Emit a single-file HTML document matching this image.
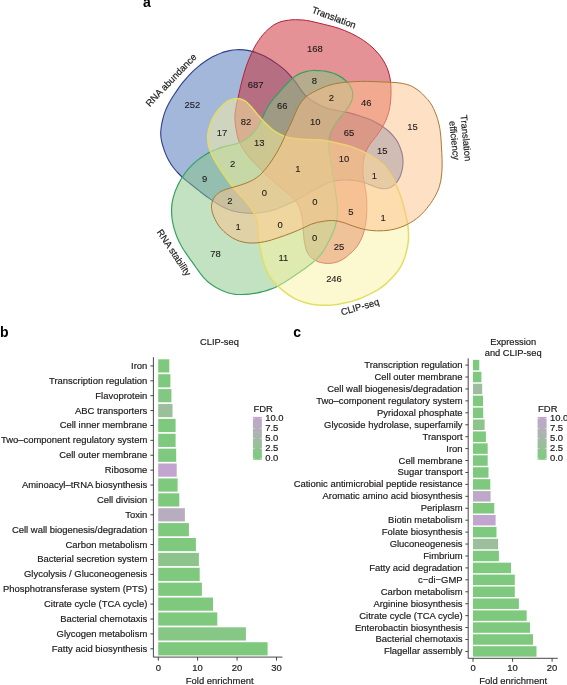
<!DOCTYPE html>
<html><head><meta charset="utf-8"><title>Figure</title>
<style>
html,body{margin:0;padding:0;background:#fff}
svg{display:block;font-family:"Liberation Sans",Arial,Helvetica,sans-serif;fill:#1c191a}
text{stroke:#1c191a;stroke-width:0.18px}
.num text{stroke-width:0.1px}
.num text{font-size:9.45px;text-anchor:middle}
.lab text{font-size:9.45px;text-anchor:middle}
.bl{font-size:9.45px;text-anchor:end}
.tk{font-size:9.45px;text-anchor:middle}
.lg{font-size:9.45px}
.ti{font-size:9.3px;text-anchor:middle}
.pn{font-size:14px;font-weight:bold;fill:#000;stroke:none}
.ax{stroke:#333;stroke-width:0.9}
</style></head><body>
<svg width="567" height="685" viewBox="0 0 567 685">
<rect width="567" height="685" fill="#fff"/>
<g id="venn">
<path d="M370.0 184.8C367.7 183.9 365.5 183.0 363.2 182.3C361.0 181.7 358.6 181.2 356.2 180.8C353.8 180.4 351.4 180.2 349.0 180.1C346.6 180.0 344.2 179.9 341.9 180.1C339.5 180.2 337.1 180.5 334.8 181.0C332.5 181.5 330.2 182.2 328.0 183.0C325.8 183.8 323.7 184.8 321.6 185.8C319.5 186.9 317.4 188.0 315.3 189.2C313.2 190.3 311.2 191.5 309.1 192.7C307.1 193.9 305.0 195.1 303.0 196.3C300.9 197.5 298.9 198.8 296.8 200.0C294.7 201.1 292.5 202.1 290.4 203.1C288.2 204.1 286.1 205.1 283.9 206.1C281.7 207.0 279.5 207.9 277.3 208.7C275.0 209.5 272.7 210.2 270.4 210.8C268.1 211.4 265.8 211.9 263.5 212.3C261.1 212.7 258.8 213.2 256.5 213.3C254.1 213.5 251.8 213.4 249.4 213.3C247.0 213.2 244.7 213.1 242.3 212.8C240.0 212.5 237.6 212.1 235.3 211.5C233.0 211.0 230.7 210.3 228.5 209.4C226.3 208.6 224.2 207.6 222.1 206.5C220.0 205.4 217.9 204.1 215.9 202.9C213.9 201.6 212.0 200.3 210.0 198.9C208.1 197.6 206.1 196.2 204.2 194.8C202.3 193.4 200.5 191.9 198.6 190.4C196.8 189.0 194.9 187.5 193.1 186.0C191.2 184.5 189.4 183.1 187.5 181.6C185.7 180.1 183.9 178.6 182.1 177.0C180.4 175.4 178.7 173.7 177.1 172.0C175.5 170.2 173.9 168.4 172.6 166.5C171.2 164.6 169.9 162.6 168.8 160.5C167.6 158.4 166.6 156.3 165.7 154.1C164.8 151.9 164.0 149.7 163.3 147.4C162.6 145.2 161.9 142.9 161.5 140.6C161.0 138.2 160.7 135.9 160.7 133.5C160.7 131.2 161.0 128.8 161.3 126.5C161.7 124.1 162.1 121.8 162.7 119.5C163.3 117.2 163.9 114.9 164.7 112.6C165.5 110.4 166.5 108.2 167.5 106.1C168.5 104.0 169.7 101.9 170.9 99.8C172.1 97.8 173.4 95.8 174.7 93.8C176.0 91.8 177.4 89.9 178.7 87.9C180.1 86.0 181.5 84.1 183.0 82.2C184.5 80.4 186.0 78.5 187.6 76.8C189.2 75.0 190.9 73.3 192.6 71.6C194.3 70.0 196.1 68.4 197.9 66.9C199.8 65.3 201.6 63.8 203.6 62.5C205.5 61.1 207.5 59.7 209.6 58.5C211.6 57.3 213.7 56.2 215.9 55.2C218.1 54.1 220.3 53.2 222.5 52.4C224.8 51.7 227.2 51.0 229.5 50.6C231.9 50.1 234.3 49.8 236.7 49.7C239.1 49.6 241.6 49.7 244.0 49.9C246.3 50.1 248.7 50.5 251.1 51.1C253.4 51.6 255.7 52.3 257.9 53.2C260.1 54.0 262.3 55.0 264.4 56.0C266.5 57.1 268.6 58.3 270.6 59.5C272.5 60.8 274.5 62.1 276.4 63.4C278.3 64.8 280.2 66.2 282.0 67.7C283.8 69.2 285.6 70.7 287.2 72.4C288.9 74.1 290.4 75.9 291.9 77.7C293.4 79.4 294.9 81.3 296.3 83.2C297.7 85.1 298.9 87.1 300.3 89.0C301.7 90.9 303.1 93.0 304.7 94.7C306.4 96.4 308.2 98.1 310.1 99.5C312.0 100.9 314.1 102.1 316.2 103.2C318.3 104.4 320.4 105.4 322.6 106.4C324.8 107.3 327.1 108.2 329.3 108.8C331.6 109.4 334.0 109.8 336.4 110.3C338.7 110.7 341.0 111.2 343.3 111.6C345.6 112.1 348.0 112.6 350.3 113.1C352.6 113.7 354.8 114.3 357.1 115.0C359.4 115.7 361.6 116.5 363.8 117.3C366.1 118.1 368.3 118.9 370.5 119.8C372.7 120.7 374.8 121.8 376.9 122.9C378.9 124.1 381.0 125.3 382.9 126.7C384.8 128.0 386.7 129.5 388.5 131.0C390.2 132.6 391.9 134.3 393.4 136.1C394.9 137.9 396.4 139.8 397.5 141.8C398.7 143.9 399.6 146.1 400.4 148.3C401.2 150.5 402.0 152.8 402.4 155.1C402.9 157.4 403.1 159.8 403.0 162.2C403.0 164.5 402.7 166.9 402.2 169.3C401.8 171.6 401.1 174.0 400.2 176.2C399.2 178.4 398.1 180.6 396.6 182.5C395.0 184.3 393.0 186.2 390.9 187.2C388.7 188.3 386.1 188.8 383.7 188.8C381.3 188.8 378.9 188.0 376.6 187.3C374.3 186.7 372.2 185.6 370.0 184.8Z" fill="#476fb5" fill-opacity="0.50" stroke="#2f3f8f" stroke-width="1.1"/>
<path d="M304.0 238.7C303.7 236.3 303.6 234.0 303.4 231.6C303.2 229.3 303.1 226.9 302.9 224.6C302.6 222.2 302.5 219.8 302.1 217.5C301.7 215.1 301.3 212.8 300.5 210.5C299.8 208.2 298.8 206.0 297.5 203.9C296.3 201.9 294.8 200.0 293.2 198.2C291.6 196.5 289.7 195.0 287.9 193.4C286.1 191.9 284.2 190.5 282.4 189.0C280.5 187.5 278.7 186.0 276.9 184.5C275.1 183.0 273.3 181.4 271.6 179.8C269.8 178.2 267.9 176.7 266.2 175.0C264.5 173.4 262.9 171.6 261.3 169.9C259.6 168.2 257.9 166.6 256.2 164.9C254.5 163.2 252.8 161.6 251.3 159.8C249.7 158.0 248.1 156.2 246.7 154.3C245.3 152.4 243.9 150.4 242.7 148.4C241.5 146.4 240.2 144.3 239.3 142.1C238.4 139.9 237.8 137.6 237.3 135.3C236.7 133.0 236.2 130.7 235.9 128.3C235.5 126.0 235.2 123.7 235.1 121.3C234.9 119.0 234.9 116.7 235.0 114.3C235.2 112.0 235.5 109.7 235.9 107.4C236.3 105.1 236.9 102.9 237.4 100.6C237.9 98.3 238.5 96.0 239.0 93.7C239.5 91.4 240.0 89.1 240.5 86.8C241.1 84.5 241.6 82.3 242.2 80.0C242.8 77.7 243.5 75.4 244.1 73.2C244.8 70.9 245.5 68.6 246.2 66.4C247.0 64.2 247.8 62.0 248.7 59.8C249.6 57.6 250.5 55.4 251.5 53.3C252.5 51.1 253.6 49.0 254.7 46.9C255.9 44.8 257.1 42.7 258.5 40.7C259.8 38.7 261.3 36.7 262.9 34.8C264.5 32.9 266.2 31.1 268.0 29.5C269.9 27.9 271.8 26.3 273.9 24.9C276.1 23.6 278.5 22.4 281.0 21.6C283.4 20.9 285.9 20.5 288.4 20.2C290.8 19.8 293.3 19.7 295.7 19.7C298.1 19.7 300.6 19.8 303.0 20.0C305.4 20.2 307.8 20.7 310.2 21.1C312.6 21.6 314.9 22.2 317.2 22.7C319.5 23.3 321.8 23.8 324.1 24.4C326.4 25.0 328.8 25.5 331.1 26.1C333.3 26.7 335.6 27.3 337.9 28.0C340.2 28.8 342.4 29.6 344.6 30.5C346.8 31.4 349.0 32.4 351.2 33.4C353.3 34.4 355.4 35.5 357.5 36.7C359.6 37.9 361.6 39.1 363.6 40.5C365.6 41.8 367.5 43.2 369.4 44.8C371.2 46.3 373.0 47.9 374.7 49.6C376.4 51.3 378.0 53.1 379.5 55.0C381.0 56.9 382.4 58.9 383.6 61.0C384.9 63.1 385.9 65.3 386.9 67.5C387.8 69.7 388.6 72.0 389.2 74.4C389.8 76.7 390.2 79.1 390.5 81.5C390.8 83.8 390.9 86.2 391.0 88.6C391.1 91.0 391.1 93.4 391.0 95.8C390.9 98.2 390.7 100.6 390.4 102.9C390.1 105.3 389.8 107.7 389.2 110.0C388.7 112.4 388.0 114.7 387.2 116.9C386.4 119.2 385.4 121.4 384.3 123.6C383.3 125.7 382.0 127.7 380.7 129.8C379.4 131.8 378.1 133.8 376.7 135.7C375.3 137.6 373.7 139.4 372.2 141.3C370.8 143.2 369.3 145.0 368.1 147.0C366.9 149.1 365.9 151.3 365.2 153.5C364.4 155.7 364.0 158.1 363.6 160.4C363.3 162.8 363.0 165.1 362.9 167.5C362.9 169.9 362.9 172.2 363.1 174.6C363.3 177.0 363.8 179.3 364.2 181.6C364.6 184.0 365.0 186.3 365.3 188.6C365.7 191.0 366.1 193.3 366.3 195.7C366.6 198.0 366.7 200.4 366.8 202.8C366.8 205.1 366.8 207.5 366.8 209.9C366.7 212.3 366.7 214.6 366.5 217.0C366.3 219.3 366.0 221.7 365.6 224.0C365.2 226.3 364.7 228.7 364.1 230.9C363.5 233.2 362.8 235.5 361.9 237.6C361.0 239.8 359.9 241.9 358.7 243.9C357.4 245.9 356.1 247.7 354.5 249.5C353.0 251.2 351.3 252.7 349.5 254.2C347.7 255.8 346.0 257.3 344.0 258.6C342.0 259.9 339.9 261.0 337.7 261.8C335.5 262.6 333.1 263.1 330.8 263.3C328.5 263.5 326.0 263.5 323.7 263.1C321.4 262.8 319.1 262.2 317.0 261.3C315.0 260.4 312.9 259.2 311.3 257.7C309.7 256.3 308.4 254.4 307.3 252.4C306.3 250.4 305.7 248.0 305.2 245.7C304.6 243.4 304.3 241.1 304.0 238.7Z" fill="#c9252b" fill-opacity="0.50" stroke="#b3203a" stroke-width="1.0"/>
<path d="M345.4 111.2C343.9 113.1 342.3 114.8 340.8 116.7C339.4 118.6 337.8 120.5 336.4 122.5C335.1 124.4 333.7 126.4 332.6 128.6C331.5 130.7 330.5 133.0 329.8 135.3C329.2 137.7 328.8 140.2 328.7 142.6C328.5 145.0 328.6 147.4 328.8 149.8C329.0 152.2 329.5 154.5 329.9 156.8C330.2 159.2 330.7 161.5 331.1 163.9C331.5 166.2 331.8 168.6 332.2 171.0C332.5 173.3 332.8 175.7 333.2 178.1C333.6 180.4 334.1 182.7 334.5 185.1C334.9 187.4 335.2 189.8 335.5 192.2C335.9 194.6 336.3 196.9 336.6 199.3C336.9 201.6 337.3 204.0 337.4 206.4C337.5 208.8 337.6 211.2 337.4 213.6C337.3 216.0 337.0 218.4 336.5 220.7C336.1 223.1 335.6 225.4 334.9 227.7C334.2 229.9 333.1 232.0 332.2 234.2C331.3 236.3 330.3 238.5 329.2 240.6C328.2 242.7 327.1 244.8 325.9 246.8C324.7 248.9 323.5 250.9 322.1 252.8C320.7 254.7 319.1 256.5 317.5 258.2C315.9 259.9 314.0 261.5 312.2 263.0C310.4 264.5 308.5 265.9 306.5 267.4C304.6 268.8 302.7 270.1 300.7 271.5C298.7 272.8 296.7 274.1 294.8 275.4C292.8 276.7 290.8 278.1 288.8 279.4C286.8 280.7 284.9 282.1 282.8 283.3C280.8 284.5 278.7 285.6 276.6 286.7C274.4 287.7 272.2 288.6 270.0 289.4C267.8 290.2 265.6 290.9 263.3 291.5C261.0 292.1 258.8 292.7 256.5 293.1C254.2 293.5 251.9 293.9 249.6 294.1C247.3 294.3 244.9 294.5 242.6 294.5C240.2 294.5 237.8 294.5 235.5 294.3C233.2 294.0 230.9 293.6 228.7 293.0C226.4 292.4 224.2 291.5 222.0 290.5C219.8 289.6 217.7 288.5 215.6 287.3C213.6 286.1 211.5 284.8 209.7 283.3C207.8 281.8 206.1 280.1 204.4 278.3C202.8 276.6 201.4 274.7 199.9 272.8C198.5 270.9 197.1 268.9 195.7 267.0C194.3 265.1 192.9 263.1 191.6 261.2C190.2 259.3 188.8 257.3 187.4 255.4C186.1 253.4 184.7 251.5 183.4 249.5C182.2 247.4 181.0 245.3 179.9 243.2C178.8 241.1 177.8 238.9 176.9 236.7C176.0 234.5 175.2 232.2 174.5 229.9C173.8 227.6 173.2 225.3 172.8 223.0C172.3 220.6 172.0 218.2 171.8 215.8C171.6 213.5 171.5 211.1 171.6 208.7C171.7 206.3 171.9 203.9 172.3 201.6C172.8 199.2 173.4 196.9 174.1 194.6C174.8 192.4 175.6 190.1 176.6 188.0C177.5 185.8 178.5 183.6 179.7 181.6C180.8 179.5 182.0 177.5 183.4 175.5C184.7 173.5 186.1 171.6 187.6 169.8C189.2 168.0 190.8 166.3 192.5 164.6C194.2 163.0 196.0 161.4 197.9 159.9C199.8 158.4 201.7 157.0 203.7 155.7C205.8 154.4 207.8 153.2 210.0 152.1C212.1 151.1 214.4 150.2 216.6 149.3C218.8 148.4 221.1 147.6 223.4 146.9C225.7 146.3 228.1 145.8 230.4 145.3C232.7 144.7 235.1 144.3 237.3 143.5C239.6 142.7 241.9 141.7 243.9 140.5C246.0 139.3 248.0 137.7 249.8 136.2C251.6 134.6 253.4 132.8 254.9 131.0C256.4 129.1 257.8 127.1 259.0 125.0C260.2 122.9 261.1 120.6 262.1 118.4C263.1 116.2 264.1 114.0 265.1 111.9C266.2 109.8 267.3 107.6 268.6 105.6C269.9 103.6 271.3 101.6 272.8 99.7C274.3 97.8 275.9 96.1 277.5 94.3C279.1 92.5 280.6 90.7 282.2 88.9C283.8 87.1 285.4 85.3 287.0 83.6C288.7 81.8 290.4 80.0 292.2 78.5C294.1 77.0 296.1 75.5 298.3 74.4C300.4 73.3 302.7 72.4 305.0 71.8C307.3 71.2 309.8 70.7 312.1 70.5C314.4 70.3 316.8 70.5 319.1 70.6C321.4 70.8 323.8 70.9 326.0 71.3C328.3 71.7 330.5 72.3 332.6 73.0C334.8 73.8 337.0 74.8 339.0 75.9C341.0 77.0 342.9 78.3 344.7 79.8C346.4 81.3 348.2 83.0 349.5 84.9C350.8 86.8 352.0 89.0 352.5 91.3C352.9 93.6 352.9 96.2 352.4 98.5C351.9 100.9 350.7 103.1 349.5 105.2C348.3 107.3 346.8 109.2 345.4 111.2Z" fill="#85c583" fill-opacity="0.50" stroke="#36a060" stroke-width="1.2"/>
<path d="M254.8 111.1C256.3 112.9 257.8 114.8 259.3 116.6C260.9 118.3 262.4 120.1 264.1 121.8C265.7 123.5 267.4 125.2 269.2 126.7C270.9 128.3 272.7 129.8 274.6 131.2C276.6 132.5 278.6 133.7 280.8 134.7C282.9 135.7 285.2 136.6 287.5 137.2C289.8 137.8 292.2 138.2 294.5 138.5C296.9 138.8 299.2 139.0 301.6 139.2C304.0 139.4 306.4 139.4 308.7 139.5C311.1 139.6 313.5 139.7 315.9 139.8C318.2 139.9 320.6 139.9 323.0 140.2C325.3 140.5 327.6 141.0 330.0 141.4C332.3 141.9 334.7 142.4 337.0 142.9C339.3 143.4 341.6 143.9 343.8 144.5C346.1 145.1 348.3 145.7 350.5 146.4C352.8 147.2 355.0 148.0 357.1 148.9C359.3 149.7 361.4 150.6 363.4 151.6C365.5 152.6 367.4 153.8 369.5 155.0C371.5 156.2 373.5 157.4 375.5 158.7C377.5 160.1 379.4 161.5 381.2 163.1C383.0 164.6 384.8 166.4 386.3 168.2C387.9 170.1 389.3 172.1 390.5 174.2C391.8 176.2 392.9 178.4 394.0 180.5C395.0 182.7 396.0 184.8 397.0 187.0C397.9 189.2 398.9 191.4 399.7 193.7C400.5 195.9 401.3 198.2 402.0 200.5C402.7 202.8 403.3 205.1 403.9 207.4C404.5 209.7 405.1 212.0 405.6 214.3C406.2 216.6 406.7 219.0 407.1 221.3C407.6 223.7 408.0 226.0 408.2 228.4C408.4 230.8 408.6 233.1 408.6 235.5C408.6 237.9 408.4 240.2 408.1 242.6C407.9 244.9 407.4 247.2 406.9 249.5C406.4 251.8 405.8 254.1 405.1 256.3C404.3 258.5 403.6 260.7 402.6 262.8C401.7 264.9 400.6 266.9 399.4 268.8C398.2 270.7 396.7 272.5 395.2 274.3C393.7 276.1 392.1 277.8 390.4 279.5C388.8 281.1 387.1 282.8 385.3 284.3C383.5 285.8 381.6 287.2 379.7 288.6C377.7 289.9 375.6 291.1 373.6 292.2C371.5 293.4 369.3 294.4 367.2 295.4C365.0 296.4 362.8 297.4 360.6 298.2C358.4 299.1 356.1 299.9 353.8 300.6C351.6 301.3 349.3 301.9 346.9 302.5C344.6 303.0 342.3 303.5 339.9 303.9C337.6 304.3 335.2 304.6 332.9 304.9C330.5 305.1 328.1 305.3 325.7 305.3C323.4 305.4 321.0 305.3 318.6 305.1C316.3 304.9 313.9 304.6 311.6 304.2C309.2 303.7 306.9 303.2 304.7 302.5C302.4 301.8 300.2 301.0 298.0 300.1C295.9 299.1 293.8 298.0 291.8 296.8C289.7 295.6 287.8 294.3 285.9 292.9C284.0 291.5 282.1 290.0 280.4 288.4C278.6 286.9 276.8 285.3 275.2 283.5C273.6 281.8 272.0 280.0 270.7 278.0C269.3 276.1 268.1 274.0 267.1 271.9C266.0 269.7 265.2 267.5 264.4 265.2C263.7 263.0 263.1 260.7 262.5 258.4C261.8 256.1 261.3 253.8 260.8 251.5C260.3 249.2 259.8 246.9 259.4 244.5C259.0 242.2 258.6 239.8 258.4 237.5C258.1 235.1 258.1 232.7 257.9 230.4C257.8 228.0 257.8 225.6 257.4 223.3C257.0 221.0 256.5 218.8 255.6 216.7C254.8 214.6 253.6 212.5 252.4 210.5C251.2 208.6 249.9 206.7 248.5 204.8C247.1 203.0 245.7 201.2 244.2 199.5C242.6 197.8 241.0 196.2 239.4 194.4C237.8 192.7 236.2 190.9 234.6 189.0C233.1 187.2 231.6 185.4 230.1 183.5C228.6 181.6 227.2 179.6 225.9 177.7C224.5 175.7 223.2 173.7 221.9 171.8C220.6 169.8 219.3 167.8 218.0 165.8C216.8 163.8 215.6 161.8 214.5 159.8C213.3 157.7 212.2 155.6 211.3 153.5C210.4 151.3 209.5 149.1 208.9 146.9C208.3 144.6 207.9 142.2 207.8 139.9C207.6 137.6 207.7 135.3 208.0 133.0C208.3 130.8 209.0 128.6 209.6 126.4C210.3 124.2 211.1 122.0 212.0 120.0C212.9 118.0 214.0 116.0 215.2 114.2C216.4 112.3 217.8 110.4 219.3 108.7C220.8 107.0 222.4 105.3 224.2 103.8C226.0 102.3 228.0 100.8 230.2 100.0C232.4 99.1 235.0 98.4 237.4 98.5C239.8 98.7 242.5 99.5 244.6 100.7C246.7 101.9 248.4 103.8 250.1 105.6C251.8 107.3 253.3 109.2 254.8 111.1Z" fill="#f9f19f" fill-opacity="0.50" stroke="#e2de62" stroke-width="1.5"/>
<path d="M233.3 187.2C235.6 186.5 237.9 185.9 240.2 185.2C242.4 184.5 244.7 183.7 246.9 182.8C249.1 181.9 251.3 180.9 253.4 179.7C255.5 178.5 257.5 177.1 259.3 175.6C261.2 174.0 262.8 172.2 264.4 170.4C266.0 168.6 267.4 166.7 268.8 164.8C270.3 162.9 271.6 160.8 272.9 158.8C274.2 156.8 275.5 154.8 276.7 152.8C277.9 150.7 279.0 148.6 280.1 146.5C281.1 144.3 282.2 142.1 283.2 140.0C284.2 137.8 284.9 135.8 285.9 133.7C286.9 131.6 288.0 129.5 289.1 127.4C290.1 125.2 291.1 123.1 292.1 120.9C293.0 118.8 293.9 116.6 294.8 114.5C295.8 112.3 296.7 110.0 297.8 107.9C298.9 105.8 300.1 103.7 301.5 101.7C303.0 99.8 304.6 97.9 306.5 96.4C308.3 94.9 310.6 93.7 312.6 92.5C314.7 91.3 316.9 90.2 319.0 89.2C321.2 88.2 323.4 87.3 325.6 86.5C327.9 85.7 330.1 84.9 332.4 84.4C334.7 83.8 337.0 83.3 339.4 83.0C341.7 82.6 344.1 82.4 346.4 82.2C348.8 82.0 351.1 81.9 353.5 81.7C355.9 81.6 358.2 81.4 360.6 81.4C362.9 81.3 365.3 81.3 367.7 81.4C370.0 81.4 372.4 81.5 374.8 81.6C377.1 81.7 379.5 81.8 381.8 81.9C384.2 82.0 386.6 82.1 389.0 82.2C391.4 82.3 393.8 82.4 396.2 82.6C398.6 82.9 401.1 83.1 403.5 83.6C405.9 84.1 408.3 84.8 410.6 85.7C412.8 86.7 415.0 88.0 417.0 89.4C419.1 90.8 420.9 92.5 422.6 94.1C424.4 95.8 426.1 97.6 427.7 99.5C429.2 101.3 430.6 103.3 431.9 105.4C433.1 107.4 434.0 109.6 434.9 111.8C435.9 113.9 436.7 116.1 437.4 118.4C438.1 120.6 438.7 122.8 439.2 125.1C439.7 127.4 440.0 129.6 440.3 131.9C440.6 134.2 440.8 136.5 441.0 138.8C441.2 141.1 441.3 143.5 441.4 145.8C441.6 148.1 441.7 150.5 441.8 152.8C441.9 155.1 442.1 157.5 442.1 159.8C442.1 162.1 442.2 164.5 442.1 166.8C442.1 169.2 441.9 171.5 441.7 173.9C441.5 176.2 441.2 178.6 440.8 180.9C440.3 183.3 439.7 185.6 439.0 187.8C438.2 190.0 437.2 192.2 436.1 194.3C435.1 196.4 433.8 198.5 432.6 200.4C431.3 202.4 430.0 204.4 428.5 206.2C427.1 208.1 425.7 209.9 424.1 211.6C422.5 213.4 420.8 215.0 419.0 216.6C417.3 218.1 415.4 219.5 413.4 220.8C411.5 222.1 409.4 223.3 407.3 224.4C405.2 225.4 403.0 226.4 400.8 227.2C398.6 228.0 396.3 228.7 394.0 229.2C391.7 229.8 389.4 230.1 387.0 230.4C384.7 230.7 382.3 230.8 380.0 230.8C377.6 230.9 375.2 230.8 372.9 230.6C370.6 230.4 368.2 230.2 365.9 229.7C363.6 229.3 361.3 228.6 359.0 228.0C356.8 227.3 354.5 226.6 352.3 225.8C350.1 225.1 348.0 224.1 345.7 223.3C343.5 222.6 341.2 221.8 338.9 221.3C336.5 220.8 334.1 220.6 331.7 220.5C329.3 220.5 326.9 220.8 324.5 221.1C322.2 221.4 319.8 221.8 317.5 222.3C315.2 222.9 312.9 223.6 310.7 224.4C308.5 225.3 306.4 226.5 304.2 227.5C302.1 228.5 299.9 229.5 297.8 230.4C295.6 231.3 293.4 232.2 291.3 233.1C289.1 233.9 286.9 234.7 284.7 235.5C282.5 236.2 280.2 237.0 278.0 237.8C275.7 238.5 273.5 239.4 271.3 240.0C269.0 240.7 266.7 241.3 264.4 241.7C262.0 242.2 259.7 242.6 257.3 242.8C254.9 243.0 252.5 243.1 250.1 243.0C247.7 242.9 245.2 242.5 242.9 242.0C240.5 241.4 238.1 240.7 235.9 239.7C233.7 238.7 231.6 237.4 229.6 236.0C227.6 234.6 225.6 233.2 223.9 231.5C222.1 229.9 220.4 227.9 219.0 226.0C217.5 224.0 216.3 221.9 215.2 219.6C214.1 217.4 213.0 215.1 212.4 212.6C211.8 210.2 211.3 207.4 211.6 204.9C211.9 202.4 212.9 199.6 214.3 197.4C215.6 195.3 217.8 193.5 219.8 192.1C221.9 190.7 224.3 190.0 226.5 189.2C228.8 188.4 231.1 187.9 233.3 187.2Z" fill="#fdc18b" fill-opacity="0.50" stroke="#a87a35" stroke-width="1.0"/>
</g>
<g class="num">
<text x="314.8" y="52.0">168</text>
<text x="255.7" y="87.6">687</text>
<text x="314.3" y="84.3">8</text>
<text x="331.4" y="101.3">2</text>
<text x="366.3" y="105.5">46</text>
<text x="192.4" y="108.3">252</text>
<text x="282.3" y="108.6">66</text>
<text x="245.9" y="124.6">82</text>
<text x="315.3" y="125.1">10</text>
<text x="349.0" y="135.6">65</text>
<text x="412.6" y="129.7">15</text>
<text x="222.0" y="135.6">17</text>
<text x="259.2" y="146.3">13</text>
<text x="382.2" y="153.7">15</text>
<text x="232.6" y="166.8">2</text>
<text x="344.0" y="162.1">10</text>
<text x="297.8" y="172.2">1</text>
<text x="204.5" y="181.5">9</text>
<text x="374.3" y="179.1">1</text>
<text x="229.9" y="203.9">2</text>
<text x="264.4" y="196.4">0</text>
<text x="314.8" y="204.8">0</text>
<text x="350.9" y="214.5">5</text>
<text x="383.0" y="221.1">1</text>
<text x="238.0" y="229.9">1</text>
<text x="280.0" y="227.7">0</text>
<text x="314.6" y="241.1">0</text>
<text x="339.0" y="249.8">25</text>
<text x="215.5" y="256.9">78</text>
<text x="283.4" y="260.5">11</text>
<text x="334.0" y="281.8">246</text>
</g>
<g class="lab">
<text transform="translate(171.0 80.0) rotate(-46.3)" y="3.3">RNA abundance</text>
<text transform="translate(334.0 17.4) rotate(20.5)" y="3.3">Translation</text>
<text transform="translate(360.0 306.8) rotate(-16.0)" y="3.3">CLIP-seq</text>
<text transform="translate(174.0 252.6) rotate(56.5)" y="3.3">RNA stability</text>
<text transform="translate(466 138) rotate(84.4)" y="3.3">Translation</text>
<text transform="translate(454.5 140.5) rotate(84.4)" y="3.3">efficiency</text>
</g>
<text class="pn" x="143.0" y="7.1">a</text>
<text class="pn" x="0" y="337">b</text>
<text class="pn" x="293.3" y="337">c</text>
<text class="ti" x="219.5" y="344.8">CLIP-seq</text>
<text class="ti" x="513.2" y="344.8">Expression</text>
<text class="ti" x="513.2" y="355.8">and CLIP-seq</text>
<g id="chartb">
<rect x="158.2" y="359.30" width="11.1" height="13.20" fill="#7fc97f"/>
<text class="bl" x="147.3" y="368.90">Iron</text>
<path d="M150.4 365.90H153.4" class="ax"/>
<rect x="158.2" y="374.19" width="12.2" height="13.20" fill="#7fc97f"/>
<text class="bl" x="147.3" y="383.79">Transcription regulation</text>
<path d="M150.4 380.79H153.4" class="ax"/>
<rect x="158.2" y="389.08" width="13.2" height="13.20" fill="#82c882"/>
<text class="bl" x="147.3" y="398.68">Flavoprotein</text>
<path d="M150.4 395.68H153.4" class="ax"/>
<rect x="158.2" y="403.97" width="14.3" height="13.20" fill="#9bbe9c"/>
<text class="bl" x="147.3" y="413.57">ABC transporters</text>
<path d="M150.4 410.57H153.4" class="ax"/>
<rect x="158.2" y="418.86" width="17.4" height="13.20" fill="#7fc97f"/>
<text class="bl" x="147.3" y="428.46">Cell inner membrane</text>
<path d="M150.4 425.46H153.4" class="ax"/>
<rect x="158.2" y="433.75" width="17.4" height="13.20" fill="#7fc97f"/>
<text class="bl" x="147.3" y="443.35">Two–component regulatory system</text>
<path d="M150.4 440.35H153.4" class="ax"/>
<rect x="158.2" y="448.64" width="18.0" height="13.20" fill="#7fc97f"/>
<text class="bl" x="147.3" y="458.24">Cell outer membrane</text>
<path d="M150.4 455.24H153.4" class="ax"/>
<rect x="158.2" y="463.53" width="18.5" height="13.20" fill="#c2a5cf"/>
<text class="bl" x="147.3" y="473.13">Ribosome</text>
<path d="M150.4 470.13H153.4" class="ax"/>
<rect x="158.2" y="478.42" width="19.4" height="13.20" fill="#7fc97f"/>
<text class="bl" x="147.3" y="488.02">Aminoacyl–tRNA biosynthesis</text>
<path d="M150.4 485.02H153.4" class="ax"/>
<rect x="158.2" y="493.31" width="21.1" height="13.20" fill="#7fc97f"/>
<text class="bl" x="147.3" y="502.91">Cell division</text>
<path d="M150.4 499.91H153.4" class="ax"/>
<rect x="158.2" y="508.20" width="26.7" height="13.20" fill="#b7adbf"/>
<text class="bl" x="147.3" y="517.80">Toxin</text>
<path d="M150.4 514.80H153.4" class="ax"/>
<rect x="158.2" y="523.09" width="30.7" height="13.20" fill="#7fc97f"/>
<text class="bl" x="147.3" y="532.69">Cell wall biogenesis/degradation</text>
<path d="M150.4 529.69H153.4" class="ax"/>
<rect x="158.2" y="537.98" width="37.7" height="13.20" fill="#7fc97f"/>
<text class="bl" x="147.3" y="547.58">Carbon metabolism</text>
<path d="M150.4 544.58H153.4" class="ax"/>
<rect x="158.2" y="552.87" width="40.7" height="13.20" fill="#8cc48c"/>
<text class="bl" x="147.3" y="562.47">Bacterial secretion system</text>
<path d="M150.4 559.47H153.4" class="ax"/>
<rect x="158.2" y="567.76" width="41.5" height="13.20" fill="#7fc97f"/>
<text class="bl" x="147.3" y="577.36">Glycolysis / Gluconeogenesis</text>
<path d="M150.4 574.36H153.4" class="ax"/>
<rect x="158.2" y="582.65" width="43.7" height="13.20" fill="#7fc97f"/>
<text class="bl" x="147.3" y="592.25">Phosphotransferase system (PTS)</text>
<path d="M150.4 589.25H153.4" class="ax"/>
<rect x="158.2" y="597.54" width="54.8" height="13.20" fill="#7fc97f"/>
<text class="bl" x="147.3" y="607.14">Citrate cycle (TCA cycle)</text>
<path d="M150.4 604.14H153.4" class="ax"/>
<rect x="158.2" y="612.43" width="59.1" height="13.20" fill="#7fc97f"/>
<text class="bl" x="147.3" y="622.03">Bacterial chemotaxis</text>
<path d="M150.4 619.03H153.4" class="ax"/>
<rect x="158.2" y="627.32" width="87.7" height="13.20" fill="#86c786"/>
<text class="bl" x="147.3" y="636.92">Glycogen metabolism</text>
<path d="M150.4 633.92H153.4" class="ax"/>
<rect x="158.2" y="642.21" width="109.4" height="13.20" fill="#7fc97f"/>
<text class="bl" x="147.3" y="651.81">Fatty acid biosynthesis</text>
<path d="M150.4 648.81H153.4" class="ax"/>
<path d="M153.4 357.2V657.1H282.4" class="ax" fill="none"/>
<path d="M158.3 657.1v3.5" class="ax"/>
<text class="tk" x="158.3" y="670.9">0</text>
<path d="M197.6 657.1v3.5" class="ax"/>
<text class="tk" x="197.6" y="670.9">10</text>
<path d="M237.1 657.1v3.5" class="ax"/>
<text class="tk" x="237.1" y="670.9">20</text>
<path d="M276.5 657.1v3.5" class="ax"/>
<text class="tk" x="276.5" y="670.9">30</text>
<defs><linearGradient id="g252" x1="0" y1="0" x2="0" y2="1"><stop offset="0.00" stop-color="#c2a5cf"/><stop offset="0.10" stop-color="#bea8ca"/><stop offset="0.20" stop-color="#b9acc1"/><stop offset="0.30" stop-color="#b2b0b9"/><stop offset="0.40" stop-color="#acb5b0"/><stop offset="0.50" stop-color="#a5b8a8"/><stop offset="0.60" stop-color="#9ebc9f"/><stop offset="0.70" stop-color="#96c097"/><stop offset="0.80" stop-color="#8ec38e"/><stop offset="0.90" stop-color="#85c785"/><stop offset="1.00" stop-color="#7fc97f"/></linearGradient></defs><rect x="252.9" y="416.9" width="9" height="42.9" fill="url(#g252)"/><text class="lg" x="253.4" y="412.0">FDR</text><text class="lg" x="265.2" y="421.4">10.0</text><path d="M252.9 418.4h1.8M261.9 418.4h-1.8" stroke="#fff" stroke-width="0.5"/><text class="lg" x="265.2" y="431.4">7.5</text><path d="M252.9 428.4h1.8M261.9 428.4h-1.8" stroke="#fff" stroke-width="0.5"/><text class="lg" x="265.2" y="441.4">5.0</text><path d="M252.9 438.4h1.8M261.9 438.4h-1.8" stroke="#fff" stroke-width="0.5"/><text class="lg" x="265.2" y="451.4">2.5</text><path d="M252.9 448.4h1.8M261.9 448.4h-1.8" stroke="#fff" stroke-width="0.5"/><text class="lg" x="265.2" y="461.4">0.0</text><path d="M252.9 458.4h1.8M261.9 458.4h-1.8" stroke="#fff" stroke-width="0.5"/>
<text class="tk" x="219.7" y="684">Fold enrichment</text>
</g>
<g id="chartc">
<rect x="473.0" y="359.85" width="6.3" height="10.50" fill="#7fc97f"/>
<text class="bl" x="462.6" y="368.10">Transcription regulation</text>
<path d="M465.4 365.10H468.2" class="ax"/>
<rect x="473.0" y="371.78" width="8.4" height="10.50" fill="#7fc97f"/>
<text class="bl" x="462.6" y="380.03">Cell outer membrane</text>
<path d="M465.4 377.03H468.2" class="ax"/>
<rect x="473.0" y="383.71" width="9.2" height="10.50" fill="#9fbca0"/>
<text class="bl" x="462.6" y="391.96">Cell wall biogenesis/degradation</text>
<path d="M465.4 388.96H468.2" class="ax"/>
<rect x="473.0" y="395.64" width="10.0" height="10.50" fill="#7fc97f"/>
<text class="bl" x="462.6" y="403.89">Two–component regulatory system</text>
<path d="M465.4 400.89H468.2" class="ax"/>
<rect x="473.0" y="407.57" width="10.2" height="10.50" fill="#7fc97f"/>
<text class="bl" x="462.6" y="415.82">Pyridoxal phosphate</text>
<path d="M465.4 412.82H468.2" class="ax"/>
<rect x="473.0" y="419.50" width="11.6" height="10.50" fill="#8cc48c"/>
<text class="bl" x="462.6" y="427.75">Glycoside hydrolase, superfamily</text>
<path d="M465.4 424.75H468.2" class="ax"/>
<rect x="473.0" y="431.43" width="12.9" height="10.50" fill="#7fc97f"/>
<text class="bl" x="462.6" y="439.68">Transport</text>
<path d="M465.4 436.68H468.2" class="ax"/>
<rect x="473.0" y="443.36" width="14.7" height="10.50" fill="#7fc97f"/>
<text class="bl" x="462.6" y="451.61">Iron</text>
<path d="M465.4 448.61H468.2" class="ax"/>
<rect x="473.0" y="455.29" width="14.7" height="10.50" fill="#7fc97f"/>
<text class="bl" x="462.6" y="463.54">Cell membrane</text>
<path d="M465.4 460.54H468.2" class="ax"/>
<rect x="473.0" y="467.22" width="15.5" height="10.50" fill="#7fc97f"/>
<text class="bl" x="462.6" y="475.47">Sugar transport</text>
<path d="M465.4 472.47H468.2" class="ax"/>
<rect x="473.0" y="479.15" width="17.3" height="10.50" fill="#7fc97f"/>
<text class="bl" x="462.6" y="487.40">Cationic antimicrobial peptide resistance</text>
<path d="M465.4 484.40H468.2" class="ax"/>
<rect x="473.0" y="491.08" width="17.6" height="10.50" fill="#bda9c7"/>
<text class="bl" x="462.6" y="499.33">Aromatic amino acid biosynthesis</text>
<path d="M465.4 496.33H468.2" class="ax"/>
<rect x="473.0" y="503.01" width="21.3" height="10.50" fill="#7fc97f"/>
<text class="bl" x="462.6" y="511.26">Periplasm</text>
<path d="M465.4 508.26H468.2" class="ax"/>
<rect x="473.0" y="514.94" width="22.6" height="10.50" fill="#c2a5cf"/>
<text class="bl" x="462.6" y="523.19">Biotin metabolism</text>
<path d="M465.4 520.19H468.2" class="ax"/>
<rect x="473.0" y="526.87" width="23.5" height="10.50" fill="#7fc97f"/>
<text class="bl" x="462.6" y="535.12">Folate biosynthesis</text>
<path d="M465.4 532.12H468.2" class="ax"/>
<rect x="473.0" y="538.80" width="25.1" height="10.50" fill="#9bbe9c"/>
<text class="bl" x="462.6" y="547.05">Gluconeogenesis</text>
<path d="M465.4 544.05H468.2" class="ax"/>
<rect x="473.0" y="550.73" width="25.9" height="10.50" fill="#7fc97f"/>
<text class="bl" x="462.6" y="558.98">Fimbrium</text>
<path d="M465.4 555.98H468.2" class="ax"/>
<rect x="473.0" y="562.66" width="38.0" height="10.50" fill="#7fc97f"/>
<text class="bl" x="462.6" y="570.91">Fatty acid degradation</text>
<path d="M465.4 567.91H468.2" class="ax"/>
<rect x="473.0" y="574.59" width="41.8" height="10.50" fill="#7fc97f"/>
<text class="bl" x="462.6" y="582.84">c−di−GMP</text>
<path d="M465.4 579.84H468.2" class="ax"/>
<rect x="473.0" y="586.52" width="41.8" height="10.50" fill="#7fc97f"/>
<text class="bl" x="462.6" y="594.77">Carbon metabolism</text>
<path d="M465.4 591.77H468.2" class="ax"/>
<rect x="473.0" y="598.45" width="45.9" height="10.50" fill="#7fc97f"/>
<text class="bl" x="462.6" y="606.70">Arginine biosynthesis</text>
<path d="M465.4 603.70H468.2" class="ax"/>
<rect x="473.0" y="610.38" width="53.7" height="10.50" fill="#7fc97f"/>
<text class="bl" x="462.6" y="618.63">Citrate cycle (TCA cycle)</text>
<path d="M465.4 615.63H468.2" class="ax"/>
<rect x="473.0" y="622.31" width="57.0" height="10.50" fill="#7fc97f"/>
<text class="bl" x="462.6" y="630.56">Enterobactin biosynthesis</text>
<path d="M465.4 627.56H468.2" class="ax"/>
<rect x="473.0" y="634.24" width="60.0" height="10.50" fill="#7fc97f"/>
<text class="bl" x="462.6" y="642.49">Bacterial chemotaxis</text>
<path d="M465.4 639.49H468.2" class="ax"/>
<rect x="473.0" y="646.17" width="63.5" height="10.50" fill="#7fc97f"/>
<text class="bl" x="462.6" y="654.42">Flagellar assembly</text>
<path d="M465.4 651.42H468.2" class="ax"/>
<path d="M468.2 358.3V658.3H557.8" class="ax" fill="none"/>
<path d="M473.0 658.3v3.5" class="ax"/>
<text class="tk" x="473.0" y="671.2">0</text>
<path d="M512.6 658.3v3.5" class="ax"/>
<text class="tk" x="512.6" y="671.2">10</text>
<path d="M552.1 658.3v3.5" class="ax"/>
<text class="tk" x="552.1" y="671.2">20</text>
<defs><linearGradient id="g537" x1="0" y1="0" x2="0" y2="1"><stop offset="0.00" stop-color="#c2a5cf"/><stop offset="0.10" stop-color="#bea8ca"/><stop offset="0.20" stop-color="#b9acc1"/><stop offset="0.30" stop-color="#b2b0b9"/><stop offset="0.40" stop-color="#acb5b0"/><stop offset="0.50" stop-color="#a5b8a8"/><stop offset="0.60" stop-color="#9ebc9f"/><stop offset="0.70" stop-color="#96c097"/><stop offset="0.80" stop-color="#8ec38e"/><stop offset="0.90" stop-color="#85c785"/><stop offset="1.00" stop-color="#7fc97f"/></linearGradient></defs><rect x="537.6" y="416.9" width="9" height="42.9" fill="url(#g537)"/><text class="lg" x="538.1" y="412.0">FDR</text><text class="lg" x="549.9" y="421.4">10.0</text><path d="M537.6 418.4h1.8M546.6 418.4h-1.8" stroke="#fff" stroke-width="0.5"/><text class="lg" x="549.9" y="431.4">7.5</text><path d="M537.6 428.4h1.8M546.6 428.4h-1.8" stroke="#fff" stroke-width="0.5"/><text class="lg" x="549.9" y="441.4">5.0</text><path d="M537.6 438.4h1.8M546.6 438.4h-1.8" stroke="#fff" stroke-width="0.5"/><text class="lg" x="549.9" y="451.4">2.5</text><path d="M537.6 448.4h1.8M546.6 448.4h-1.8" stroke="#fff" stroke-width="0.5"/><text class="lg" x="549.9" y="461.4">0.0</text><path d="M537.6 458.4h1.8M546.6 458.4h-1.8" stroke="#fff" stroke-width="0.5"/>
<text class="tk" x="513.2" y="684">Fold enrichment</text>
</g>
</svg>
</body></html>
